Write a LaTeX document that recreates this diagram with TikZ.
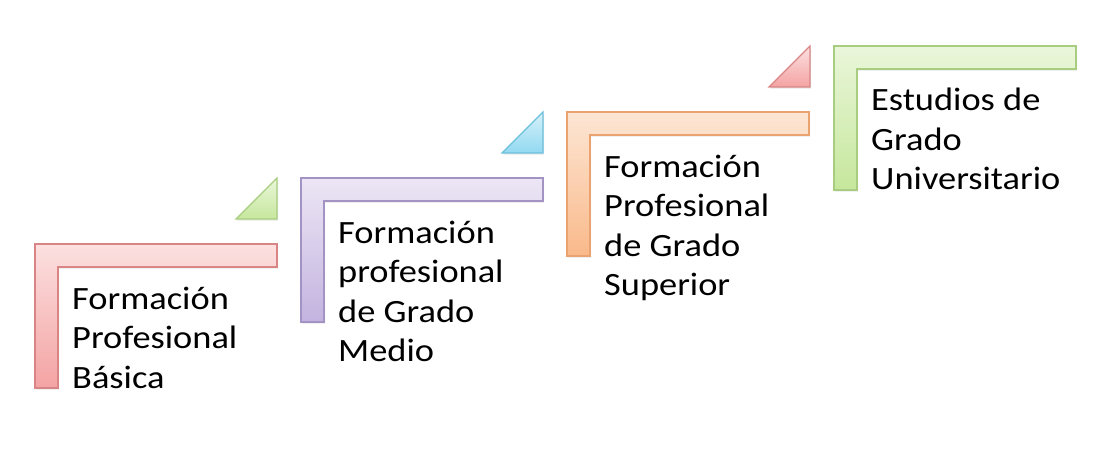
\documentclass[tikz,border=0pt]{standalone}
\usepackage{graphicx}
\usepackage{fontspec}
\setmainfont{Carlito}
\usetikzlibrary{shadows}
\definecolor{redT}{HTML}{FCE0E0}\definecolor{redB}{HTML}{F4A3A3}\definecolor{redD}{HTML}{D98585}
\definecolor{purT}{HTML}{ECE6F5}\definecolor{purB}{HTML}{C3B3DF}\definecolor{purD}{HTML}{A393C4}
\definecolor{orgT}{HTML}{FDE6D4}\definecolor{orgB}{HTML}{F9B98A}\definecolor{orgD}{HTML}{E9A270}
\definecolor{grnT}{HTML}{EAF6DA}\definecolor{grnB}{HTML}{C6E79C}\definecolor{grnD}{HTML}{A9CD80}
\definecolor{bluT}{HTML}{D6F1FA}\definecolor{bluB}{HTML}{92D9F1}\definecolor{bluD}{HTML}{6CBFDD}
\tikzset{
  lshape/.style={line width=1.1pt, line join=miter, drop shadow={opacity=0.18, shadow xshift=1.2pt, shadow yshift=-1.6pt}},
  tri/.style={line width=1.1pt, line join=miter, drop shadow={opacity=0.18, shadow xshift=1.2pt, shadow yshift=-1.6pt}},
  lbl/.style={anchor=base west, inner sep=0pt, font=\fontsize{32.5}{39.5}\selectfont}
}
\newcommand{\Lpath}{(0,0) -- (242,0) -- (242,23) -- (23,23) -- (23,144) -- (0,144) -- cycle}
\newcommand{\Tpath}{(0,0) -- (41,0) -- (41,-41) -- cycle}
\newcommand{\lines}[1]{\scalebox{1.12}[1]{\begin{tabular}[t]{@{}l@{}}#1\end{tabular}}}
\begin{document}
\begin{tikzpicture}[x=1pt,y=-1pt]
\useasboundingbox (0,0) rectangle (1111,462);
% steps
\begin{scope}[shift={(35,244)}]
  \draw[lshape, draw=redD, top color=redT, bottom color=redB] \Lpath;
\end{scope}
\begin{scope}[shift={(301,178)}]
  \draw[lshape, draw=purD, top color=purT, bottom color=purB] \Lpath;
\end{scope}
\begin{scope}[shift={(567,112)}]
  \draw[lshape, draw=orgD, top color=orgT, bottom color=orgB] \Lpath;
\end{scope}
\begin{scope}[shift={(834,46)}]
  \draw[lshape, draw=grnD, top color=grnT, bottom color=grnB] \Lpath;
\end{scope}
% triangles
\begin{scope}[shift={(236,219)}]
  \draw[tri, draw=grnD, top color=grnT, bottom color=grnB] \Tpath;
\end{scope}
\begin{scope}[shift={(502,153)}]
  \draw[tri, draw=bluD, top color=bluT, bottom color=bluB] \Tpath;
\end{scope}
\begin{scope}[shift={(769,87)}]
  \draw[tri, draw=redD, top color=redT, bottom color=redB] \Tpath;
\end{scope}
% labels
\node[lbl] (t1) at (72,309.5) {\lines{Formación\\Profesional\\Básica}};
\node[lbl] (t2) at (338,243.5) {\lines{Formación\\profesional\\de Grado\\Medio}};
\node[lbl] (t3) at (604,177.5) {\lines{Formación\\Profesional\\de Grado\\Superior}};
\node[lbl] (t4) at (871,111) {\lines{Estudios de\\Grado\\Universitario}};
\end{tikzpicture}
\end{document}
